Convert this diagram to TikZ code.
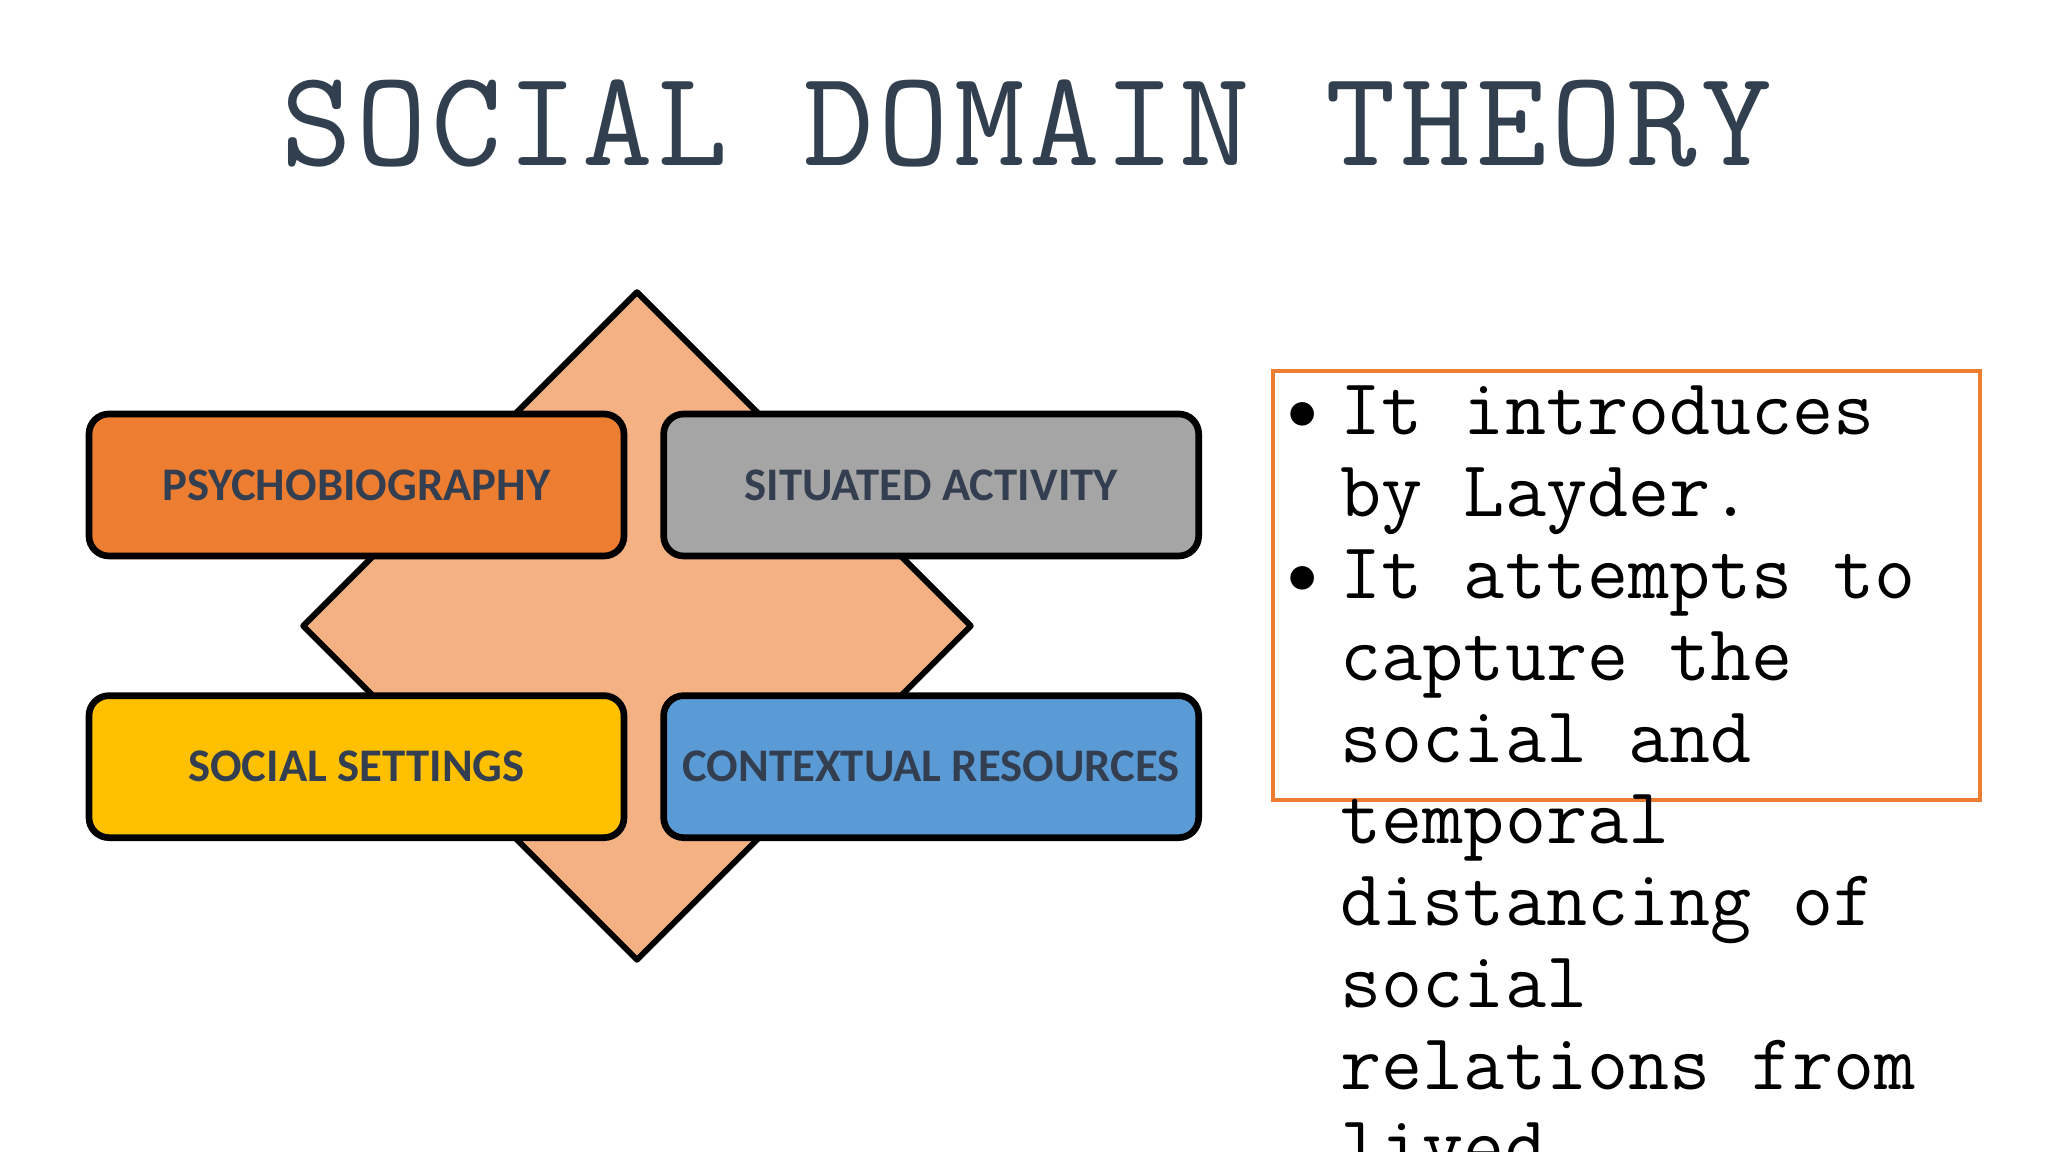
\documentclass[tikz,border=0pt]{standalone}
\usepackage{fontspec}
\usepackage{xcolor}
\usetikzlibrary{positioning, shapes.geometric}
\newfontfamily\calibrifont{Carlito}
\newfontfamily\titlefont[LetterSpace=3.4]{Latin Modern Mono}
\definecolor{titleslate}{RGB}{50,63,79}
\definecolor{labelslate}{RGB}{51,63,80}
\definecolor{diamondfill}{RGB}{244,177,131}
\definecolor{psychorange}{RGB}{237,125,49}
\definecolor{situatedgrey}{RGB}{165,165,165}
\definecolor{settingsyellow}{RGB}{255,192,0}
\definecolor{resourceblue}{RGB}{91,155,213}
\definecolor{frameorange}{RGB}{237,125,49}

\begin{document}
\begin{tikzpicture}[
    domainbox/.style={draw=black, line width=1.9pt, rounded corners=0.2cm,
      minimum width=5.35cm, minimum height=1.42cm, inner sep=0pt,
      text=labelslate, font=\calibrifont\bfseries\fontsize{13.3}{16}\selectfont},
    bodytext/.style={inner sep=0pt, text=black,
      font=\ttfamily\fontsize{22.7}{27}\selectfont},
    bulletmark/.style={inner sep=0pt, text=black,
      font=\fontsize{16}{20}\selectfont}
  ]

  % canvas
  \useasboundingbox (0,0) rectangle (20.48,11.52);
  \clip (0,0) rectangle (20.48,11.52);
  \fill[white] (0,0) rectangle (20.48,11.52);

  % ============================================================
  %  Title
  % ============================================================
  \node[anchor=base, inner sep=0pt, text=titleslate,
        font=\titlefont\fontsize{39}{44}\selectfont]
    (title) at (10.27, 9.86) {SOCIAL DOMAIN THEORY};

  % ============================================================
  %  Diagram: diamond behind four domain boxes
  % ============================================================
  \node[diamond, draw=black, line width=1.7pt, line join=round,
        fill=diamondfill, inner sep=0pt,
        minimum width=6.70cm, minimum height=6.70cm]
    (core) at (6.37, 5.26) {};

  \node[domainbox, fill=psychorange] (psycho) at (3.565, 6.67) {PSYCHOBIOGRAPHY};
  \node[domainbox, fill=situatedgrey, right=0.33cm of psycho] (situated) {SITUATED ACTIVITY};
  \node[domainbox, fill=settingsyellow, below=1.33cm of psycho] (settings) {SOCIAL SETTINGS};
  \node[domainbox, fill=resourceblue, right=0.33cm of settings] (resources) {CONTEXTUAL RESOURCES};

  % ============================================================
  %  Text panel
  % ============================================================
  \draw[frameorange, line width=1.4pt] (12.73, 7.81) rectangle (19.80, 3.52);

  % bullets
  \node[bulletmark, anchor=base] (bullet1) at (13.03, 7.22) {$\bullet$};
  \node[bulletmark, anchor=base] (bullet2) at (13.03, {7.22-2*0.818}) {$\bullet$};

  % lines of text (the last one runs off the page)
  \foreach \txt [count=\i from 0] in {It introduces, by Layder., It attempts to,
      capture the, social and, temporal, distancing of, social,
      relations from, lived}
    \node[bodytext, anchor=base west] (line\i) at (13.40, {7.17-0.818*\i}) {\txt};

\end{tikzpicture}
\end{document}
